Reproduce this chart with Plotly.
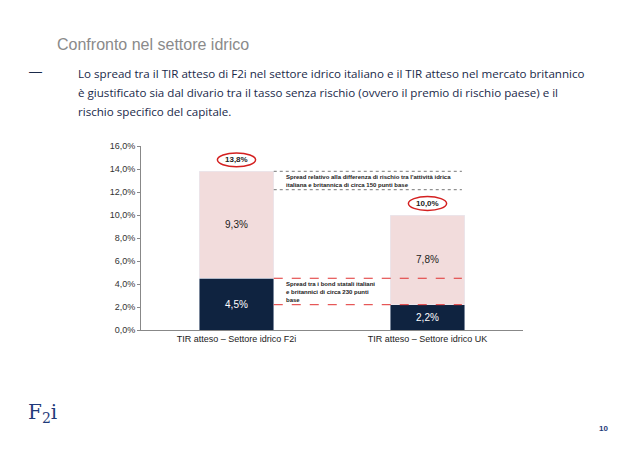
import plotly.graph_objects as go

categorie = ["TIR atteso – Settore idrico F2i", "TIR atteso – Settore idrico UK"]
risk_free = [4.5, 2.2]
premio = [9.3, 7.8]
totali = [13.8, 10.0]
tick_vals = [0, 2, 4, 6, 8, 10, 12, 14, 16]
tick_text = ["0,0%", "2,0%", "4,0%", "6,0%", "8,0%", "10,0%", "12,0%", "14,0%", "16,0%"]
righe = [
    "Lo spread tra il TIR atteso di F2i nel settore idrico italiano e il TIR atteso nel mercato britannico",
    "è giustificato sia dal divario tra il tasso senza rischio (ovvero il premio di rischio paese) e il",
    "rischio specifico del capitale.",
]

def pct(v):
    return f"{v:.1f}%".replace(".", ",")

fig = go.Figure()
fig.add_trace(go.Bar(x=categorie, y=risk_free, marker_color="#0f2340", width=0.39,
                     text=[pct(v) for v in risk_free], textposition="inside",
                     insidetextanchor="middle",
                     textfont=dict(color="white", size=10, family="Liberation Sans")))
fig.add_trace(go.Bar(x=categorie, y=premio, marker_color="#f2dcdc", width=0.39,
                     text=[pct(v) for v in premio], textposition="inside",
                     insidetextanchor="middle",
                     textfont=dict(color="#222", size=10, family="Liberation Sans")))

shapes = []
for i, t in enumerate(totali):
    shapes.append(dict(type="circle", xref="x", yref="y", x0=i - 0.1, x1=i + 0.1,
                       y0=t + 0.4, y1=t + 1.6, line=dict(color="#d42020", width=1.5)))
    fig.add_annotation(x=i, y=t + 1.0, text=f"<b>{pct(t)}</b>", showarrow=False,
                       font=dict(size=8, color="#222", family="Liberation Sans"))
for yv in [totali[0], 12.2]:
    shapes.append(dict(type="line", xref="x", yref="y", x0=0.195, x1=1.18, y0=yv, y1=yv,
                       line=dict(color="#777", width=1, dash="dot")))
for yv in risk_free:
    shapes.append(dict(type="line", xref="x", yref="y", x0=0.195, x1=1.18, y0=yv, y1=yv,
                       line=dict(color="#e03030", width=1, dash="dash")))

fig.add_annotation(x=0.25, y=13.0, xanchor="left", align="left", showarrow=False,
                   text="<b>Spread relativo alla differenza di rischio tra l'attività idrica<br>italiana e britannica di circa 150 punti base</b>",
                   font=dict(size=6, color="#222", family="Liberation Sans"))
fig.add_annotation(x=0.25, y=3.3, xanchor="left", align="left", showarrow=False,
                   text="<b>Spread tra i bond statali italiani<br>e britannici di circa 230 punti<br>base</b>",
                   font=dict(size=6, color="#222", family="Liberation Sans"))

# testo della slide
fig.add_annotation(xref="paper", yref="paper", x=-0.225, y=1.609, xanchor="left", showarrow=False,
                   text="Confronto nel settore idrico",
                   font=dict(size=16, color="#8a8a8a", family="Liberation Sans"))
fig.add_annotation(xref="paper", yref="paper", x=-0.298, y=1.455, xanchor="left", showarrow=False,
                   text="—", font=dict(size=13, color="#1a2a4a", family="Liberation Sans"))
for k, (riga, yp) in enumerate(zip(righe, [1.443, 1.340, 1.237])):
    fig.add_annotation(xref="paper", yref="paper", x=-0.171, y=yp, xanchor="left",
                       showarrow=False, text=riga,
                       font=dict(size=11.6, color="#1a2a4a", family="Open Sans"))
fig.add_annotation(xref="paper", yref="paper", x=-0.3, y=-0.533, xanchor="left", showarrow=False,
                   text="F<sub>2</sub>i", font=dict(size=20, color="#1f3a7a", family="DejaVu Serif"))
fig.add_annotation(xref="paper", yref="paper", x=1.193, y=-0.57, xanchor="left", showarrow=False,
                   text="<b>10</b>", font=dict(size=8, color="#1f3a7a", family="Liberation Sans"))

fig.update_layout(
    barmode="stack", width=638, height=451, showlegend=False, shapes=shapes,
    margin=dict(l=133, r=123, t=138, b=129),
    plot_bgcolor="white", paper_bgcolor="white",
    xaxis=dict(range=[-0.5, 1.5], showline=True, linecolor="#888", ticks="",
               tickfont=dict(size=9, color="#222", family="Liberation Sans")),
    yaxis=dict(range=[0, 16], tickvals=tick_vals, ticktext=tick_text, showgrid=False,
               showline=True, linecolor="#888", ticks="outside", ticklen=3, tickcolor="#888",
               tickfont=dict(size=9, color="#333", family="Liberation Sans")),
)
fig.write_html("out.html")
